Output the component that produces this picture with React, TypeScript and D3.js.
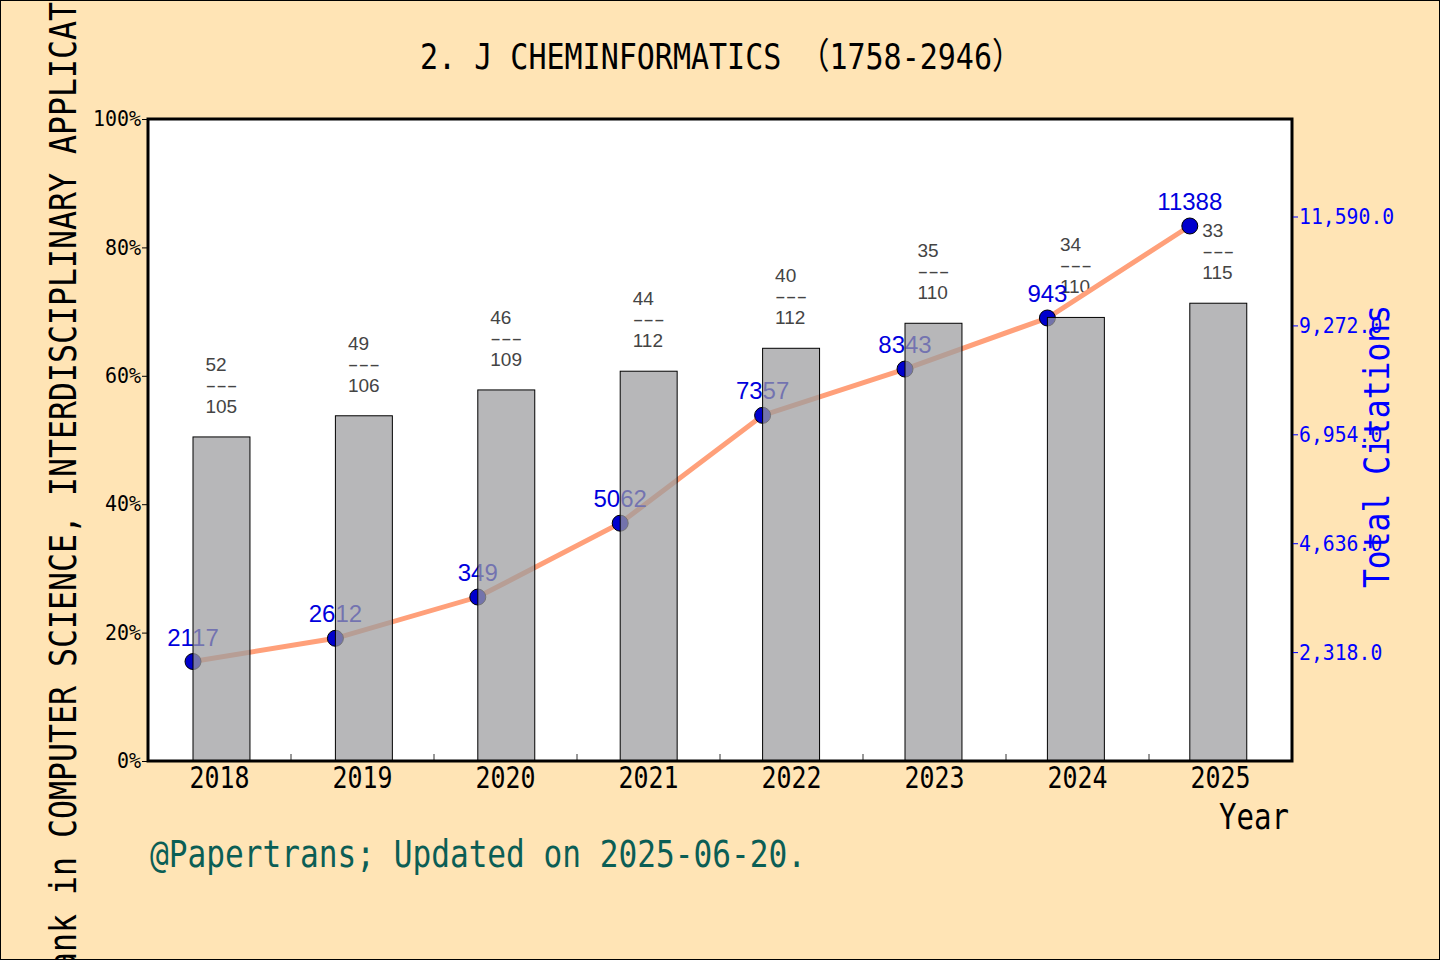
import React, { useEffect, useRef } from 'react';
import * as d3 from "d3";

const years = ["2018", "2019", "2020", "2021", "2022", "2023", "2024", "2025"];
const ranks = [52, 49, 46, 44, 40, 35, 34, 33];
const totals = [105, 106, 109, 112, 112, 110, 110, 115];
const citations = [2117, 2612, 3490, 5062, 7357, 8343, 9430, 11388];
const citationLabels = ["2117", "2612", "349", "5062", "7357", "8343", "943", "11388"];
const percentTicks = [0, 0.2, 0.4, 0.6, 0.8, 1];
const citationTicks = [2318, 4636, 6954, 9272, 11590];
const citationMax = 13665.6;

const title = "2. J CHEMINFORMATICS （1758-2946）";
const leftLabel = "Rank in COMPUTER SCIENCE, INTERDISCIPLINARY APPLICATIONS";
const rightLabel = "Total Citations";
const xLabel = "Year";
const footer = "@Papertrans; Updated on 2025-06-20.";

const MONO = "'DejaVu Sans Mono', 'Noto Sans CJK SC', monospace";
const SANS = "'Liberation Sans', Arial, sans-serif";

export default function App() {
    const svgRef = useRef(null);

    const drawChart = () => {
        const W = 1440, H = 960;
        const margin = { top: 119, right: 148, bottom: 199, left: 148 };
        const x0 = margin.left, x1 = W - margin.right, y0 = margin.top, y1 = H - margin.bottom;

        const data = years.map((year, i) => ({
            year,
            rank: ranks[i],
            total: totals[i],
            pct: 1 - ranks[i] / totals[i],
            cites: citations[i],
            label: citationLabels[i],
        }));

        // axis band (labels) and the slightly shifted band used for the marks
        const xAxisScale = d3.scaleBand().domain(years).range([x0, x1]);
        const xMark = d3.scaleBand().domain(years).range([193, 193 + 142.4 * years.length]);
        const barW = xMark.bandwidth() * 0.4;

        const yPct = d3.scaleLinear().domain([0, 1]).range([y1, y0]);
        const yCite = d3.scaleLinear().domain([0, citationMax]).range([y1, y0]);

        d3.select(svgRef.current).selectAll("*").remove();
        const svg = d3.select(svgRef.current)
            .attr("width", W)
            .attr("height", H);

        svg.append("rect")
            .attr("x", 0.5).attr("y", 0.5)
            .attr("width", W - 1).attr("height", H - 1)
            .attr("fill", "#FFE4B5")
            .attr("stroke", "#000");

        svg.append("rect")
            .attr("x", x0).attr("y", y0)
            .attr("width", x1 - x0).attr("height", y1 - y0)
            .attr("fill", "#fff");

        // rank / total labels above bars
        const lab = svg.append("g")
            .style("font-family", SANS)
            .style("font-size", "19px")
            .attr("fill", "#444");
        data.forEach((d) => {
            const cx = (xMark(d.year) || 0) + barW / 2 - 16;
            const top = yPct(d.pct);
            lab.append("text").attr("x", cx).attr("y", top - 66).text(String(d.rank));
            lab.append("text").attr("x", cx).attr("y", top - 45)
                .attr("textLength", 32).attr("lengthAdjust", "spacingAndGlyphs").text("---");
            lab.append("text").attr("x", cx).attr("y", top - 24).text(String(d.total));
        });

        // citations line
        const line = d3.line<any>()
            .x((d) => xMark(d.year) || 0)
            .y((d) => yCite(d.cites));
        svg.append("path")
            .datum(data)
            .attr("d", line)
            .attr("fill", "none")
            .attr("stroke", "#FFA07A")
            .attr("stroke-width", 5);

        svg.selectAll("circle.pt")
            .data(data)
            .enter()
            .append("circle")
            .attr("class", "pt")
            .attr("cx", (d) => xMark(d.year) || 0)
            .attr("cy", (d) => yCite(d.cites))
            .attr("r", 8)
            .attr("fill", "#0000CD")
            .attr("stroke", "#000")
            .attr("stroke-width", 1);

        svg.selectAll("text.cite")
            .data(data)
            .enter()
            .append("text")
            .attr("class", "cite")
            .attr("x", (d) => xMark(d.year) || 0)
            .attr("y", (d) => yCite(d.cites) - 16)
            .attr("text-anchor", "middle")
            .style("font-family", SANS)
            .style("font-size", "24px")
            .attr("fill", "#0000DD")
            .text((d) => d.label);

        // semi-transparent bars drawn over the line
        svg.selectAll("rect.bar")
            .data(data)
            .enter()
            .append("rect")
            .attr("class", "bar")
            .attr("x", (d) => xMark(d.year) || 0)
            .attr("y", (d) => yPct(d.pct))
            .attr("width", barW)
            .attr("height", (d) => y1 - yPct(d.pct))
            .attr("fill", "rgb(157,157,159)")
            .attr("fill-opacity", 0.733)
            .attr("stroke", "#000")
            .attr("stroke-width", 1);

        // minor ticks on the bottom between categories
        svg.append("g")
            .selectAll("line")
            .data(years.slice(1))
            .enter()
            .append("line")
            .attr("x1", (d) => xAxisScale(d) || 0)
            .attr("x2", (d) => xAxisScale(d) || 0)
            .attr("y1", y1)
            .attr("y2", y1 - 7)
            .attr("stroke", "#333")
            .attr("stroke-width", 1);

        // frame
        svg.append("rect")
            .attr("x", x0).attr("y", y0)
            .attr("width", x1 - x0).attr("height", y1 - y0)
            .attr("fill", "none")
            .attr("stroke", "#000")
            .attr("stroke-width", 3);

        // left axis
        const yAxis = svg.append("g")
            .attr("transform", `translate(${x0 - 1},0)`)
            .call(d3.axisLeft(yPct).tickValues(percentTicks).tickFormat(d3.format(".0%")).tickSize(5).tickPadding(1));
        yAxis.select("path").remove();
        yAxis.selectAll("line").attr("stroke", "#000");
        yAxis.selectAll("text")
            .style("font-family", MONO)
            .style("font-size", "21px")
            .attr("fill", "#000")
            .attr("textLength", function () { return d3.select(this).text().length * 12; })
            .attr("lengthAdjust", "spacingAndGlyphs");

        // right axis
        const rAxis = svg.append("g")
            .attr("transform", `translate(${x1 + 1},0)`)
            .call(d3.axisRight(yCite).tickValues(citationTicks).tickFormat(d3.format(",.1f")).tickSize(5).tickPadding(1));
        rAxis.select("path").remove();
        rAxis.selectAll("line").attr("stroke", "#0000ff");
        rAxis.selectAll("text")
            .style("font-family", MONO)
            .style("font-size", "22px")
            .attr("fill", "#0000ff")
            .attr("textLength", function () { return d3.select(this).text().length * 11.9; })
            .attr("lengthAdjust", "spacingAndGlyphs");

        // bottom axis labels
        const xAxis = svg.append("g")
            .attr("transform", `translate(0,${y1})`)
            .call(d3.axisBottom(xAxisScale).tickSize(0).tickPadding(10));
        xAxis.select("path").remove();
        xAxis.selectAll("text")
            .style("font-family", MONO)
            .style("font-size", "31px")
            .attr("fill", "#000")
            .attr("dy", "0.71em")
            .attr("y", 5)
            .attr("textLength", 60)
            .attr("lengthAdjust", "spacingAndGlyphs");

        // titles and labels
        svg.append("text")
            .attr("x", 721).attr("y", 69)
            .attr("text-anchor", "middle")
            .style("font-family", MONO)
            .style("font-size", "36px")
            .attr("textLength", 602)
            .attr("lengthAdjust", "spacingAndGlyphs")
            .text(title);

        svg.append("text")
            .attr("transform", `translate(76,990) rotate(-90)`)
            .style("font-family", MONO)
            .style("font-size", "38px")
            .attr("textLength", 1064)
            .attr("lengthAdjust", "spacingAndGlyphs")
            .text(leftLabel);

        svg.append("text")
            .attr("transform", `translate(1389,588) rotate(-90)`)
            .style("font-family", MONO)
            .style("font-size", "36px")
            .attr("fill", "#0000ff")
            .attr("textLength", 283)
            .attr("lengthAdjust", "spacingAndGlyphs")
            .text(rightLabel);

        svg.append("text")
            .attr("x", 1289).attr("y", 829)
            .attr("text-anchor", "end")
            .style("font-family", MONO)
            .style("font-size", "35px")
            .attr("textLength", 70)
            .attr("lengthAdjust", "spacingAndGlyphs")
            .text(xLabel);

        svg.append("text")
            .attr("x", 150).attr("y", 867)
            .style("font-family", MONO)
            .style("font-size", "37px")
            .attr("fill", "#0b5e55")
            .attr("textLength", 656)
            .attr("lengthAdjust", "spacingAndGlyphs")
            .text(footer);
    };

    useEffect(() => {
        drawChart();
    }, []);

    return (
        <div style={{ position: "absolute", left: 0, top: 0 }}>
            <svg ref={svgRef} style={{ display: "block" }} />
        </div>
    );
}
